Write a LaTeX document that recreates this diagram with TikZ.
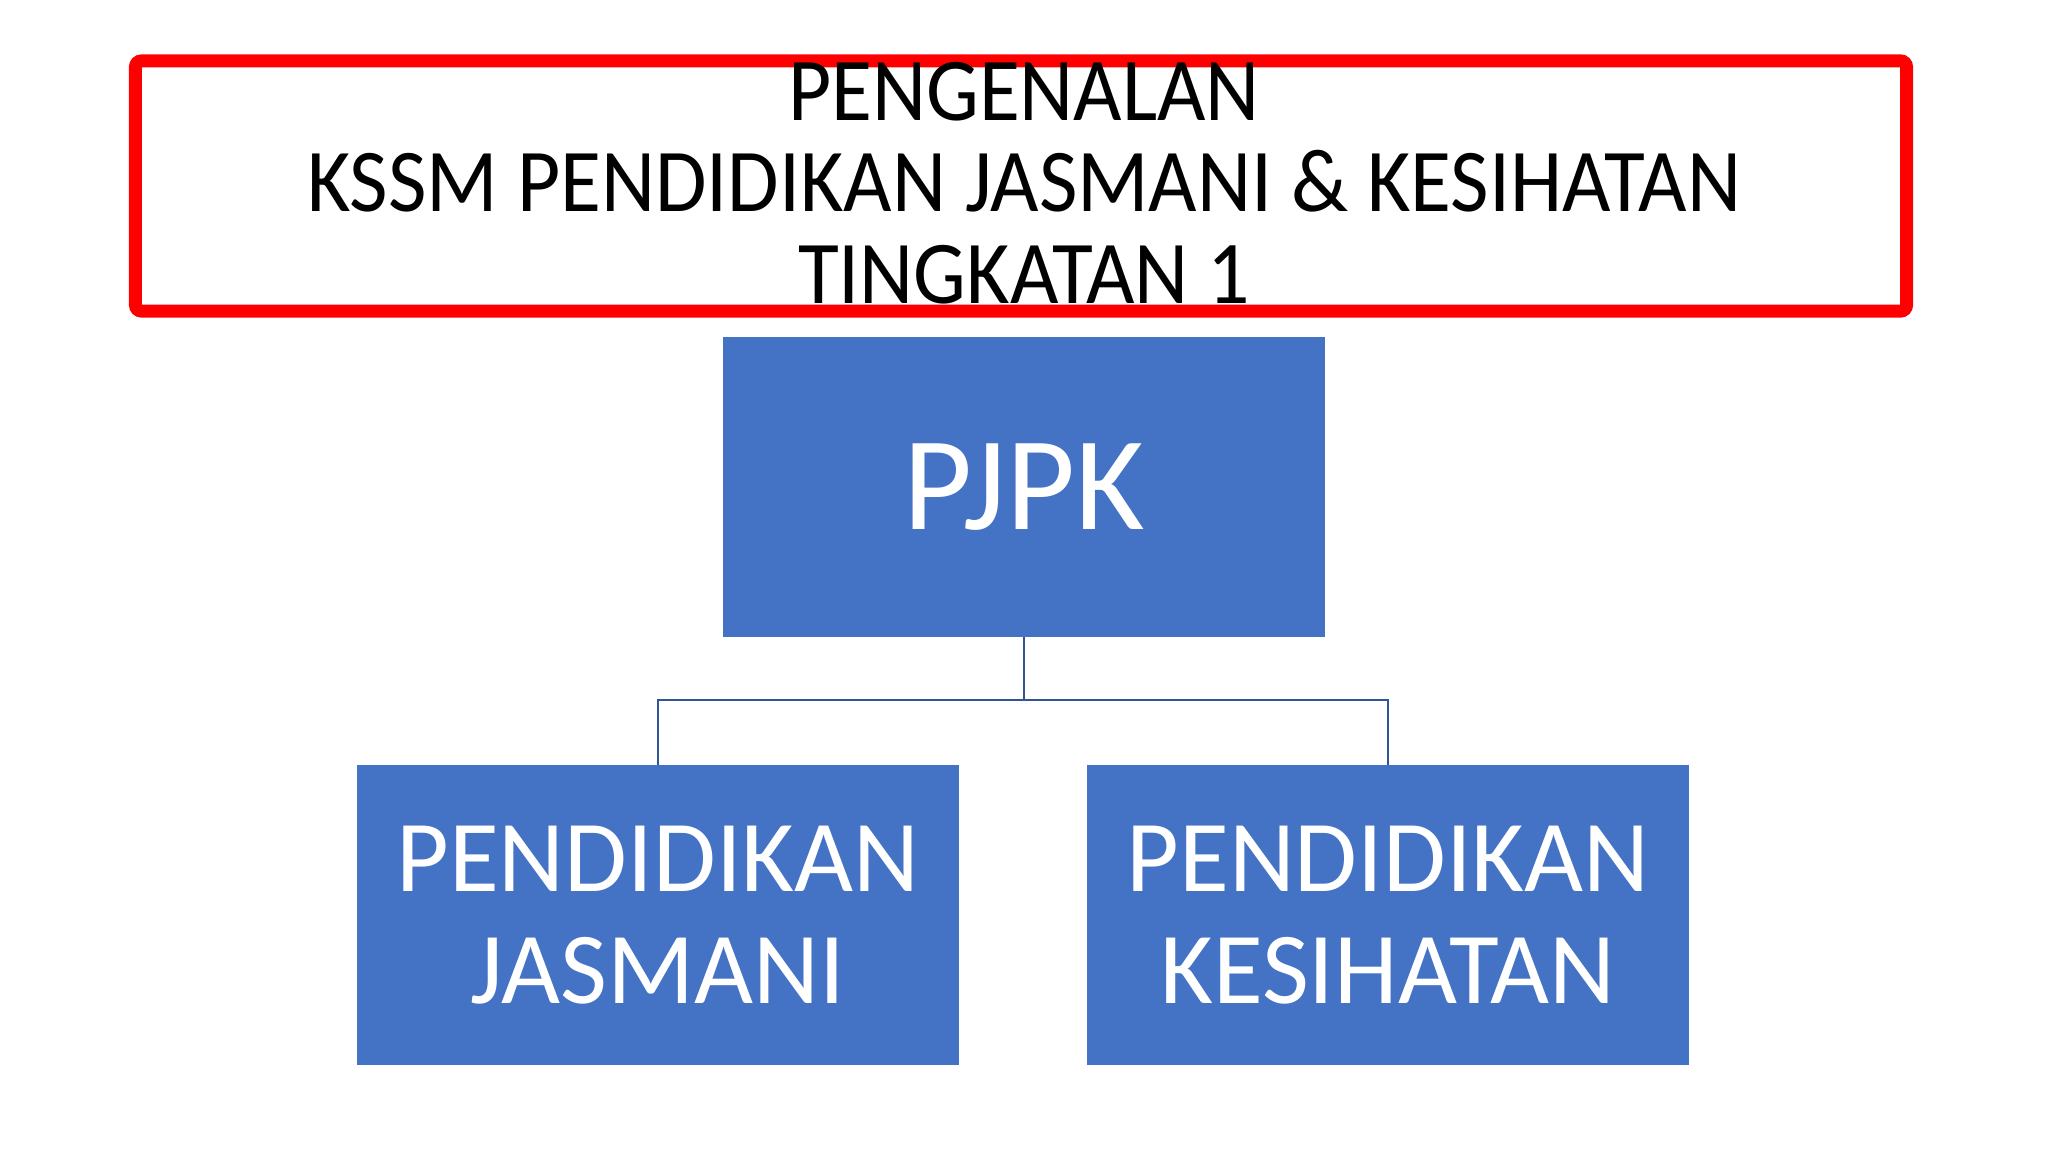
\documentclass[tikz,border=0pt]{standalone}
\usepackage{fontspec}
\setmainfont{Carlito}
\newfontfamily\headfont[FakeStretch=0.933]{Carlito}
\usetikzlibrary{positioning}
\definecolor{pjblue}{HTML}{4472C4}
\definecolor{linkblue}{HTML}{2F5597}

\begin{document}
\begin{tikzpicture}[x=0.01cm,y=-0.01cm,
   title frame/.style={draw=red,line width=0.13cm,rounded corners=0.06cm,
      minimum width=17.7cm,minimum height=2.5cm,inner sep=0pt},
   heading/.style={align=center,inner sep=0pt,
      font=\headfont\fontsize{25.5}{26}\selectfont},
   root box/.style={fill=pjblue,text=white,minimum width=6.01cm,
      minimum height=2.99cm,font=\fontsize{38}{40}\selectfont},
   child box/.style={fill=pjblue,text=white,align=center,minimum width=6.01cm,
      minimum height=2.99cm,font=\fontsize{29}{32}\selectfont},
   link/.style={draw=linkblue,line width=0.025cm}]
\useasboundingbox (0,0) rectangle (2048,1152);
\fill[white] (0,0) rectangle (2048,1152);

% title
\node[title frame] (frame) at (1021,186) {};
\node[heading] (intro) at (1024,183)
  {PENGENALAN\\KSSM PENDIDIKAN JASMANI \& KESIHATAN\\TINGKATAN 1};

% chart
\node[root box] (pjpk) at (1024,487) {PJPK};
\node[child box] (jasmani) at (658,915) {PENDIDIKAN\\JASMANI};
\node[child box] (kesihatan) at (1388,915) {PENDIDIKAN\\KESIHATAN};

\coordinate (split) at (1024,700);
\draw[link] (pjpk.south) -- (split);
\draw[link] (split) -| (jasmani.north);
\draw[link] (split) -| (kesihatan.north);
\end{tikzpicture}
\end{document}
